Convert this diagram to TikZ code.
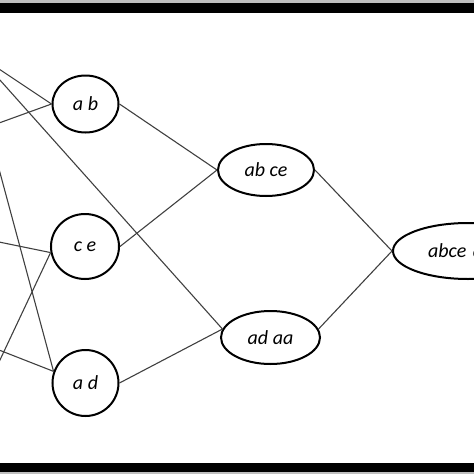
\documentclass[tikz,border=0pt]{standalone}
\usepackage{fontspec}
\setmainfont{Carlito}
\usetikzlibrary{shapes.geometric}
\begin{document}
\begin{tikzpicture}[x=1pt,y=-1pt,
  set/.style={draw,ellipse,line width=2pt,inner sep=0pt,font=\fontsize{20}{24}\selectfont\itshape},
  link/.style={line width=1.1pt,black!75}]
\clip (0,0) rectangle (474,474);
\fill[black!25] (0,0) rectangle (474,3);
\fill[black] (0,3) rectangle (474,12.5);
\fill[black] (0,462.5) rectangle (474,472);
\fill[black!25] (0,472) rectangle (474,474);
\node[set,minimum width=66pt,minimum height=57pt] (ab) at (85.5,104) {a b};
\node[set,minimum width=68pt,minimum height=65pt] (ce) at (85,246.5) {c e};
\node[set,minimum width=66pt,minimum height=66pt] (ad) at (85.5,383) {a d};
\node[set,minimum width=96pt,minimum height=52pt] (abce) at (266,170) {ab ce};
\node[set,minimum width=99pt,minimum height=53pt] (adaa) at (270.5,337.5) {ad aa};
\node[set,minimum width=150pt,minimum height=56pt,text width=80pt,align=left] (abcea) at (468,251) {abce a};
\coordinate (l1) at (-1,69);
\coordinate (l2) at (-1,79);
\coordinate (l3) at (-1,123);
\coordinate (l4) at (-1,169);
\coordinate (l5) at (-1,242);
\coordinate (l6) at (-1,350);
\coordinate (l7) at (-1,362);
\draw[link] (l1) -- (ab.west);
\draw[link] (l3) -- (ab.west);
\draw[link] (l2) -- (adaa.170);
\draw[link] (l4) -- (ad.160);
\draw[link] (l6) -- (ad.160);
\draw[link] (l5) -- (ce.190);
\draw[link] (l7) -- (ce.190);
\draw[link] (ab.east) -- (abce.west);
\draw[link] (ce.east) -- (abce.west);
\draw[link] (ad.east) -- (adaa.170);
\draw[link] (abce.east) -- (abcea.west);
\draw[link] (adaa.10) -- (abcea.west);
\end{tikzpicture}
\end{document}
